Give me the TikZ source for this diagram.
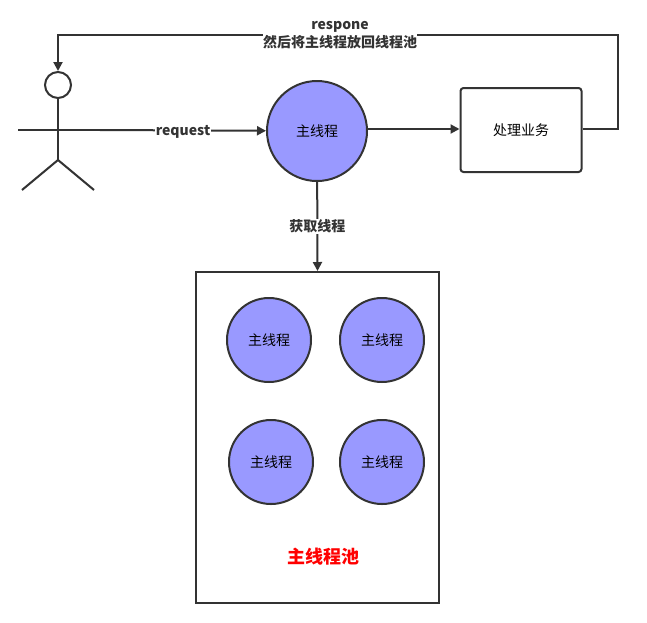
\documentclass[tikz,border=0pt]{standalone}
\usepackage{fontspec}
\setmainfont{Noto Sans CJK SC}
\usetikzlibrary{arrows.meta}
\definecolor{thread}{HTML}{9999FF}
\definecolor{edge}{HTML}{333333}
\tikzset{
	thr/.style = {circle, draw = edge, line width = 2pt, fill = thread, inner sep = 0pt, font = \fontsize{14}{16}\selectfont},
	link/.style = {draw = edge, line width = 2pt, -{Triangle[length=9pt,width=9pt]}},
	lbl/.style = {fill = white, inner sep = 1pt, font = \fontsize{14}{16}\selectfont\bfseries, text = edge}
}
\begin{document}
\begin{tikzpicture}[x = 1pt, y = -1pt]
	\useasboundingbox (0,0) rectangle (647,622);
	% actor
	\node [circle, draw = edge, line width = 2pt, minimum size = 26pt, inner sep = 0pt] (head) at (58,85) {};
	\draw [edge, line width = 2pt] (head.south) -- (58,160) coordinate (hip);
	\draw [edge, line width = 2pt] (18,130) -- (100,130) coordinate (hand);
	\draw [edge, line width = 2pt] (22,190) -- (hip) -- (94,190);
	% main thread
	\node [thr, minimum size = 100pt] (main) at (317,131) {主线程};
	\node [draw = edge, line width = 2pt, rounded corners = 3pt, minimum width = 121pt, minimum height = 84pt, font = \fontsize{14}{16}\selectfont] (work) at (521,130) {处理业务};
	\draw [link] (hand) -- node [lbl, yshift = -2pt] {request} (main);
	\draw [link] (main.east |- 0,129) -- (work.west |- 0,129);
	% response
	\coordinate (r1) at (618,129);
	\coordinate (r2) at (618,35);
	\coordinate (r3) at (58,35);
	\draw [link] (work.east |- 0,129) -- (r1) -- (r2) -- (r3) -- (head.north);
	\node [lbl, align = center, inner sep = 0pt] at (340,35) {respone\\[2pt]然后将主线程放回线程池};
	% pool
	\node [draw = edge, line width = 2pt, minimum width = 243pt, minimum height = 331pt] (pool) at (317.5,437.5) {};
	\draw [link] (main) -- node [lbl] {获取线程} (pool.north);
	\node [thr, minimum size = 84pt] (t1) at (269,340) {主线程};
	\node [thr, minimum size = 84pt] (t2) at (382,340) {主线程};
	\node [thr, minimum size = 84pt] (t3) at (271,462) {主线程};
	\node [thr, minimum size = 84pt] (t4) at (382,462) {主线程};
	\node [text = red, font = \fontsize{18}{20}\selectfont\bfseries] (name) at (323,557) {主线程池};
\end{tikzpicture}
\end{document}
